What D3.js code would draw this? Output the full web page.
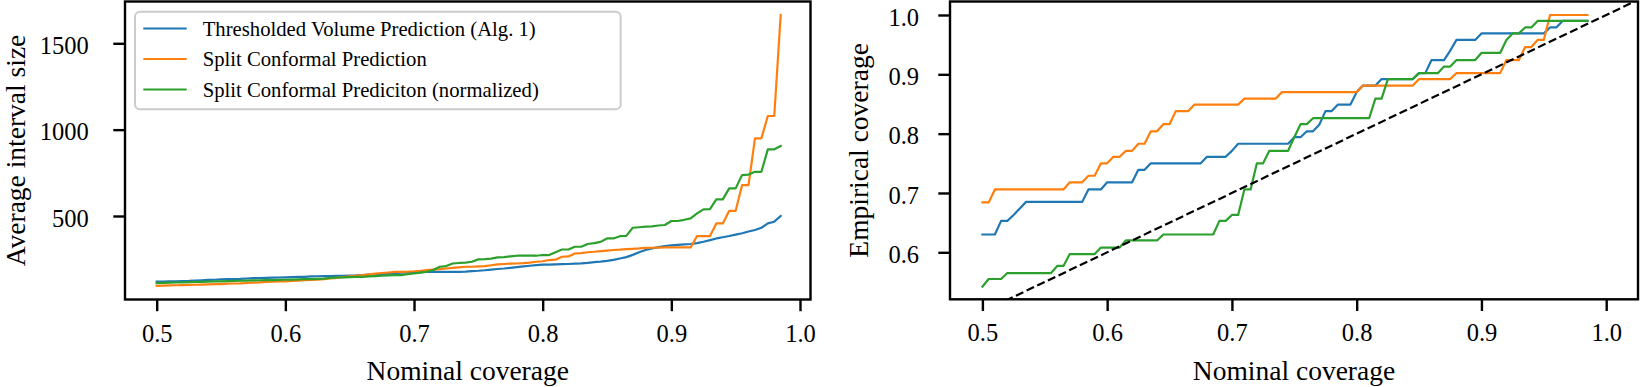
<!DOCTYPE html>
<html>
<head>
<meta charset="utf-8">
<script src="https://cdn.jsdelivr.net/npm/d3@7"></script>
<style>
  html, body { margin: 0; padding: 0; background: #fff; }
  svg { display: block; }
  svg text { font-family: "Liberation Serif", "DejaVu Serif", serif; }
</style>
</head>
<body>
<svg id="chart" width="1642" height="387"></svg>
<script>
// nominal coverage levels (x axis of both panels)
const nominal = [
  0.500, 0.505, 0.510, 0.515, 0.520, 0.525, 0.530, 0.535, 0.540, 0.545,
  0.550, 0.555, 0.560, 0.565, 0.570, 0.575, 0.580, 0.585, 0.590, 0.595,
  0.600, 0.605, 0.610, 0.615, 0.620, 0.625, 0.630, 0.635, 0.640, 0.645,
  0.650, 0.655, 0.660, 0.665, 0.670, 0.675, 0.680, 0.685, 0.690, 0.695,
  0.700, 0.705, 0.710, 0.715, 0.720, 0.725, 0.730, 0.735, 0.740, 0.745,
  0.750, 0.755, 0.760, 0.765, 0.770, 0.775, 0.780, 0.785, 0.790, 0.795,
  0.800, 0.805, 0.810, 0.815, 0.820, 0.825, 0.830, 0.835, 0.840, 0.845,
  0.850, 0.855, 0.860, 0.865, 0.870, 0.875, 0.880, 0.885, 0.890, 0.895,
  0.900, 0.905, 0.910, 0.915, 0.920, 0.925, 0.930, 0.935, 0.940, 0.945,
  0.950, 0.955, 0.960, 0.965, 0.970, 0.975, 0.980, 0.985
];

// average interval size (left panel)
const sizeThresholded = [
  120, 120, 121, 122, 123, 124, 126, 128, 130, 131,
  133, 134, 135, 136, 138, 140, 141, 142, 143, 144,
  145, 146, 147, 148, 150, 151, 152, 152, 153, 154,
  155, 156, 158, 160, 162, 164, 166, 169, 172, 173,
  174, 175, 176, 177, 177, 177, 177, 177, 178, 181,
  183, 186, 190, 193, 196, 200, 204, 208, 212, 215,
  218, 219, 220, 221, 222, 224, 226, 229, 233, 236,
  240, 246, 254, 262, 275, 290, 303, 312, 320, 326,
  330, 333, 336, 338, 343, 351, 360, 370, 377, 384,
  392, 400, 410, 419, 432, 457, 467, 500
];
const sizeSplit = [
  96, 97, 98, 99, 100, 101, 102, 103, 104, 105,
  106, 108, 109, 110, 112, 114, 116, 118, 120, 121,
  122, 124, 126, 128, 130, 132, 135, 138, 142, 146,
  150, 154, 158, 162, 166, 170, 173, 176, 177, 178,
  180, 183, 187, 190, 192, 196, 200, 203, 206, 206,
  208, 210, 215, 220, 222, 224, 225, 227, 230, 235,
  238, 245, 247, 264, 266, 283, 285, 290, 293, 297,
  300, 303, 305, 308, 310, 312, 315, 316, 317, 318,
  318, 318, 318, 318, 384, 384, 384, 457, 457, 530,
  530, 679, 679, 950, 950, 1079, 1079, 1664
];
const sizeSplitNorm = [
  112, 113, 114, 115, 116, 117, 118, 119, 120, 121,
  122, 123, 124, 125, 126, 127, 128, 129, 129, 130,
  131, 132, 133, 134, 135, 136, 137, 142, 144, 145,
  146, 147, 148, 150, 152, 154, 156, 158, 158, 163,
  167, 172, 177, 187, 206, 210, 225, 228, 230, 235,
  249, 250, 253, 260, 262, 266, 270, 270, 270, 270,
  274, 274, 290, 306, 306, 322, 322, 338, 343, 350,
  370, 370, 383, 385, 432, 435, 438, 440, 445, 448,
  471, 471, 478, 486, 515, 538, 540, 596, 596, 660,
  660, 737, 740, 756, 756, 886, 886, 905
];

// empirical coverage (right panel)
const covThresholded = [
  0.630, 0.630, 0.630, 0.653, 0.653, 0.663, 0.674, 0.685, 0.685, 0.685,
  0.685, 0.685, 0.685, 0.685, 0.685, 0.685, 0.685, 0.706, 0.706, 0.706,
  0.718, 0.718, 0.718, 0.718, 0.718, 0.739, 0.739, 0.750, 0.750, 0.750,
  0.750, 0.750, 0.750, 0.750, 0.750, 0.750, 0.761, 0.761, 0.761, 0.761,
  0.771, 0.783, 0.783, 0.783, 0.783, 0.783, 0.783, 0.783, 0.783, 0.783,
  0.794, 0.794, 0.804, 0.804, 0.815, 0.838, 0.838, 0.849, 0.849, 0.849,
  0.870, 0.881, 0.881, 0.881, 0.892, 0.892, 0.892, 0.892, 0.892, 0.892,
  0.902, 0.902, 0.924, 0.924, 0.924, 0.940, 0.958, 0.958, 0.958, 0.958,
  0.969, 0.969, 0.969, 0.969, 0.969, 0.969, 0.969, 0.969, 0.969, 0.969,
  0.969, 0.979, 0.979, 0.990, 0.990, 0.990, 0.990, 0.990
];
const covSplit = [
  0.684, 0.684, 0.706, 0.706, 0.706, 0.706, 0.706, 0.706, 0.706, 0.706,
  0.706, 0.706, 0.706, 0.706, 0.718, 0.718, 0.718, 0.729, 0.729, 0.750,
  0.750, 0.761, 0.761, 0.771, 0.771, 0.783, 0.783, 0.804, 0.804, 0.816,
  0.816, 0.838, 0.838, 0.838, 0.849, 0.849, 0.849, 0.849, 0.849, 0.849,
  0.849, 0.849, 0.859, 0.859, 0.859, 0.859, 0.859, 0.859, 0.870, 0.870,
  0.870, 0.870, 0.870, 0.870, 0.870, 0.870, 0.870, 0.870, 0.870, 0.870,
  0.870, 0.881, 0.881, 0.881, 0.881, 0.881, 0.881, 0.881, 0.881, 0.881,
  0.892, 0.892, 0.892, 0.892, 0.892, 0.892, 0.902, 0.902, 0.902, 0.902,
  0.902, 0.902, 0.902, 0.902, 0.924, 0.924, 0.924, 0.946, 0.946, 0.958,
  0.958, 1.000, 1.000, 1.000, 1.000, 1.000, 1.000, 1.000
];
const covSplitNorm = [
  0.542, 0.555, 0.555, 0.555, 0.565, 0.565, 0.565, 0.565, 0.565, 0.565,
  0.565, 0.565, 0.577, 0.577, 0.597, 0.597, 0.597, 0.597, 0.597, 0.608,
  0.608, 0.608, 0.608, 0.620, 0.620, 0.620, 0.620, 0.620, 0.620, 0.630,
  0.630, 0.630, 0.630, 0.630, 0.630, 0.630, 0.630, 0.630, 0.653, 0.653,
  0.663, 0.663, 0.706, 0.706, 0.750, 0.750, 0.771, 0.771, 0.771, 0.771,
  0.794, 0.816, 0.816, 0.826, 0.826, 0.826, 0.826, 0.826, 0.826, 0.826,
  0.826, 0.826, 0.826, 0.859, 0.859, 0.892, 0.892, 0.892, 0.892, 0.892,
  0.902, 0.902, 0.902, 0.902, 0.913, 0.913, 0.924, 0.924, 0.924, 0.924,
  0.936, 0.936, 0.936, 0.936, 0.958, 0.969, 0.969, 0.979, 0.979, 0.990,
  0.990, 0.990, 0.990, 0.990, 0.990, 0.990, 0.990, 0.990
];

// y = x reference line (right panel)
const diagonal = [0.45, 1.05];

const seriesNames = [
  "Thresholded Volume Prediction (Alg. 1)",
  "Split Conformal Prediction",
  "Split Conformal Prediciton (normalized)"
];
const nominalTicks = [0.5, 0.6, 0.7, 0.8, 0.9, 1.0];
const sizeTicks = [500, 1000, 1500];
const coverageTicks = [0.6, 0.7, 0.8, 0.9, 1.0];

const colors = ["#1f77b4", "#ff7f0e", "#2ca02c"];
const serif = '"Liberation Serif", "DejaVu Serif", serif';
const tickFont = 24.5;

const svg = d3.select("#chart");

// области вывода (пиксели) и пределы осей, как в исходной картинке
const areaLeft  = { x0: 125, x1: 810.5, y0: 1.5, y1: 299.5, yPad: 24.5, id: "clipL" };
const areaRight = { x0: 950, x1: 1638,  y0: 1.5, y1: 299.3, yPad: 19.3, id: "clipR" };

function createAxis(area, xDomain, yDomain, yTicks, yFormat, yLabel, yLabelX) {
  const scaleX = d3.scaleLinear().domain(xDomain).range([area.x0, area.x1]);
  const scaleY = d3.scaleLinear().domain(yDomain).range([area.y1, area.y0]);

  const axisX = d3.axisBottom(scaleX)
    .tickValues(nominalTicks)
    .tickFormat(d3.format(".1f"))
    .tickSize(11.7).tickSizeOuter(0).tickPadding(13);
  const axisY = d3.axisLeft(scaleY)
    .tickValues(yTicks)
    .tickFormat(yFormat)
    .tickSize(11.7).tickSizeOuter(0).tickPadding(area.yPad);

  const gx = svg.append("g")
    .attr("transform", `translate(0, ${area.y1})`)
    .call(axisX);
  const gy = svg.append("g")
    .attr("transform", `translate(${area.x0}, 0)`)
    .call(axisY);
  gy.selectAll("text").attr("dy", "0.41em");

  [gx, gy].forEach(g => {
    g.attr("font-family", serif).attr("font-size", tickFont);
    g.select(".domain").remove();
    g.selectAll("line").attr("stroke", "#000").attr("stroke-width", 2.4);
    g.selectAll("text")
      .attr("fill", "#000")
      .style("font-family", serif)
      .style("font-size", tickFont + "px");
  });

  svg.append("text")
    .attr("x", (area.x0 + area.x1) / 2)
    .attr("y", 380)
    .attr("text-anchor", "middle")
    .style("font-size", "27.5px")
    .text("Nominal coverage");

  svg.append("text")
    .attr("transform", `translate(${yLabelX}, ${(area.y0 + area.y1) / 2}) rotate(-90)`)
    .attr("text-anchor", "middle")
    .style("font-size", "27.5px")
    .text(yLabel);

  svg.append("clipPath").attr("id", area.id)
    .append("rect")
    .attr("x", area.x0).attr("y", area.y0)
    .attr("width", area.x1 - area.x0).attr("height", area.y1 - area.y0);

  return [scaleX, scaleY];
}

function createChartLine(area, scaleX, scaleY, xs, ys, color, dash) {
  const lineGenerator = d3.line()
    .x((d, i) => scaleX(xs[i]))
    .y(d => scaleY(d));

  svg.append("path")
    .attr("d", lineGenerator(ys))
    .attr("clip-path", `url(#${area.id})`)
    .style("fill", "none")
    .style("stroke", color)
    .style("stroke-width", 2.2)
    .style("stroke-linejoin", "round")
    .style("stroke-linecap", dash ? "butt" : "square")
    .style("stroke-dasharray", dash ? "8.2,3.6" : null);
}

function drawFrame(area) {
  svg.append("rect")
    .attr("x", area.x0).attr("y", area.y0)
    .attr("width", area.x1 - area.x0).attr("height", area.y1 - area.y0)
    .style("fill", "none")
    .style("stroke", "#000")
    .style("stroke-width", 2.4);
}

function drawLegend() {
  const box = { x: 135, y: 11.7, w: 485.7, h: 97.6 };
  svg.append("rect")
    .attr("x", box.x).attr("y", box.y)
    .attr("width", box.w).attr("height", box.h)
    .attr("rx", 5)
    .style("fill", "#fff").style("fill-opacity", 0.8)
    .style("stroke", "#cccccc").style("stroke-width", 2);

  const rows = svg.append("g").selectAll("g")
    .data(seriesNames)
    .enter()
    .append("g")
    .attr("transform", (d, i) => `translate(0, ${28.5 + i * 30.5})`);

  rows.append("line")
    .attr("x1", 143.3).attr("x2", 186.7)
    .style("stroke", (d, i) => colors[i])
    .style("stroke-width", 2.2);

  rows.append("text")
    .attr("x", 202.7).attr("y", 7.3)
    .style("font-size", "20.7px")
    .text(d => d);
}

// left panel: average interval size
const [lx, ly] = createAxis(areaLeft, [0.47536, 1.00816], [16.5, 1742],
  sizeTicks, d3.format("d"), "Average interval size", 24.8);
[sizeThresholded, sizeSplit, sizeSplitNorm].forEach((ys, k) =>
  createChartLine(areaLeft, lx, ly, nominal, ys, colors[k], false));
drawFrame(areaLeft);
drawLegend();

// right panel: empirical coverage
const [rx, ry] = createAxis(areaRight, [0.47403, 1.02549], [0.52078, 1.02275],
  coverageTicks, d3.format(".1f"), "Empirical coverage", 868.3);
[covThresholded, covSplit, covSplitNorm].forEach((ys, k) =>
  createChartLine(areaRight, rx, ry, nominal, ys, colors[k], false));
createChartLine(areaRight, rx, ry, diagonal, diagonal, "#000", true);
drawFrame(areaRight);
</script>
</body>
</html>
